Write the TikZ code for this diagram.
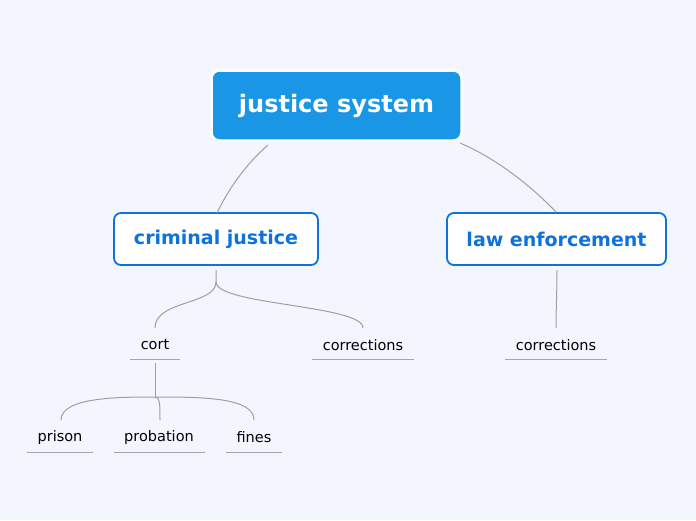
\documentclass[tikz,border=0pt]{standalone}
\usepackage{fontspec}
\setmainfont{DejaVu Sans}
\begin{document}
\begin{tikzpicture}[x=1pt,y=-1pt,
  root/.style={draw=white,line width=2.5pt,fill=rootblue,rounded corners=8pt,text=white,font=\bfseries\fontsize{24}{26}\selectfont,minimum width=250pt,minimum height=70pt},
  main/.style={draw=mainblue,line width=1.8pt,fill=white,rounded corners=7pt,text=mainblue,font=\bfseries\fontsize{19}{21}\selectfont,minimum height=52pt},
  leaf/.style={font=\fontsize{14.5}{16}\selectfont,text=black},
  ul/.style={draw=gray!70,line width=0.7pt},
  con/.style={draw=gray!75,line width=1pt}]
\definecolor{rootblue}{HTML}{1A96E6}
\definecolor{mainblue}{HTML}{0C72E0}
\definecolor{bg}{HTML}{F3F6FE}
\fill[bg] (0,0) rectangle (696,520);
\useasboundingbox (0,0) rectangle (696,520);
\node[root] (r) at (336.5,105.5) {justice system};
\node[main,minimum width=204pt] (cj) at (216,239) {criminal justice};
\node[main,minimum width=219pt] (le) at (556.5,239) {law enforcement};
\node[leaf] (cort) at (155,345) {cort};
\node[leaf] (c1) at (363,345) {corrections};
\node[leaf] (c2) at (556,345) {corrections};
\node[leaf] (pr) at (60,437) {prison};
\node[leaf] (pb) at (159,437) {probation};
\node[leaf] (fi) at (254,437) {fines};
\draw[ul] (130,359)--(180,359); \draw[ul] (312,359)--(414,359); \draw[ul] (505,359)--(607,359);
\draw[ul] (27,452)--(93,452); \draw[ul] (114,452)--(205,452); \draw[ul] (226,452)--(282,452);
\draw[con] (268,145) .. controls (245,165) and (228,190) .. (217,213);
\draw[con] (460,143) .. controls (500,160) and (535,190) .. (556,212);
\draw[con] (216,270)--(216,282) .. controls (216,305) and (155,300) .. (155,328);
\draw[con] (216,282) .. controls (216,305) and (363,305) .. (363,328);
\draw[con] (557,270) .. controls (557,290) and (556,310) .. (556,328);
\draw[con] (155,363)--(155,397);
\draw[con] (155,397) .. controls (120,397) and (61,397) .. (61,420);
\draw[con] (155,397) .. controls (160,397) and (160,405) .. (160,420);
\draw[con] (155,397) .. controls (200,397) and (254,397) .. (254,420);
\end{tikzpicture}
\end{document}
